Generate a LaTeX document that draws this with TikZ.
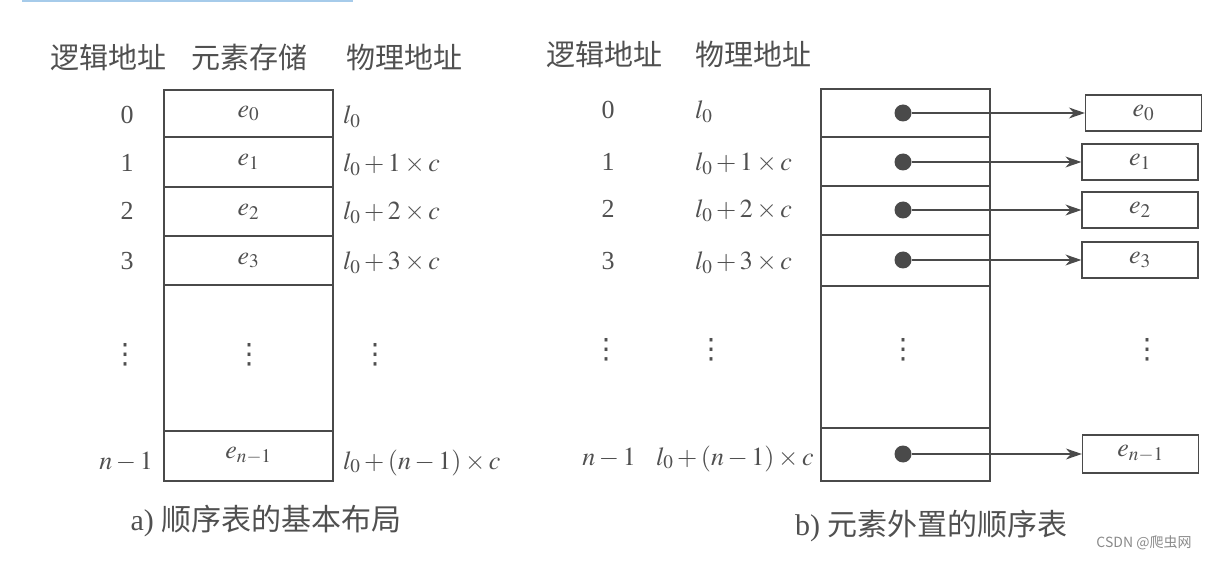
\documentclass[tikz,border=0pt]{standalone}
\usepackage{mathptmx}
\usepackage[no-math]{fontspec}
\setmainfont{Liberation Serif}
\newfontfamily\cjk{Noto Sans CJK SC}
\newfontfamily\djv{DejaVu Sans}
\usetikzlibrary{arrows.meta}
\definecolor{ink}{HTML}{505050}
\definecolor{edge}{HTML}{4A4A4A}
\definecolor{topblue}{HTML}{A6CBEA}
\definecolor{wm}{HTML}{8A8A8A}
\begin{document}
\begin{tikzpicture}[x=1pt,y=-1pt,
  every node/.style={text=ink, font=\fontsize{26}{30}\selectfont},
  cell/.style={draw=edge, line width=1.3pt, minimum width=169pt, inner sep=0pt},
  ebox/.style={draw=edge, line width=1.3pt, minimum width=116pt, minimum height=36pt, inner sep=0pt},
  hdr/.style={font=\cjk\fontsize{29}{30}\selectfont, inner sep=0pt},
  lbl/.style={anchor=base west, inner sep=0pt},
  num/.style={anchor=base, inner sep=0pt},
  numr/.style={anchor=base east, inner sep=0pt},
  vd/.style={inner sep=0pt, font=\djv\fontsize{28}{30}\selectfont},
  pdot/.style={circle, fill=edge, minimum size=17pt, inner sep=0pt},
  arr/.style={draw=edge, line width=1.1pt, -{Stealth[length=16pt,width=11pt]}},
  captxt/.style={font=\fontsize{30}{32}\selectfont, inner sep=0pt}
]
\useasboundingbox (0,0) rectangle (1207,561);
\fill[topblue] (22,0) rectangle (353,2.5);

% ---------- a) ----------
\node[hdr] (ha1) at (108.5,57) {逻辑地址};
\node[hdr] (ha2) at (249,57) {元素存储};
\node[hdr] (ha3) at (404,57) {物理地址};

\node[cell, minimum height=47pt] (L0) at (248.5,113.5) {$e_0$};
\node[cell, minimum height=50pt] (L1) at (248.5,162) {$e_1$};
\node[cell, minimum height=49pt] (L2) at (248.5,211.5) {$e_2$};
\node[cell, minimum height=49pt] (L3) at (248.5,260.5) {$e_3$};
\node[cell, minimum height=146pt] (Ld) at (248.5,358) {};
\node[vd] (ldd) at (249,355) {⋮};
\node[cell, minimum height=50pt] (Ln) at (248.5,456) {$e_{n-1}$};

\node[num] (a0) at (127,124) {0};
\node[num] (a1) at (127,172) {1};
\node[num] (a2) at (127,220) {2};
\node[num] (a3) at (127,270) {3};
\node[vd] (ad) at (125,355) {⋮};
\node[numr] (an) at (153,469) {$n-1$};

\node[lbl] (p0) at (343,124) {$l_0$};
\node[lbl] (p1) at (343,172) {$l_0+1\times c$};
\node[lbl] (p2) at (343,220) {$l_0+2\times c$};
\node[lbl] (p3) at (343,270) {$l_0+3\times c$};
\node[vd] (pd) at (375,355) {⋮};
\node[lbl] (pn) at (343,469) {$l_0+(n-1)\times c$};

\node[captxt] (capa) at (266,521) {a) {\cjk 顺序表的基本布局}};

% ---------- b) ----------
\node[hdr] (hb1) at (604,54) {逻辑地址};
\node[hdr] (hb2) at (753.5,54) {物理地址};

\node[num] (b0) at (608,119) {0};
\node[num] (b1) at (608,171) {1};
\node[num] (b2) at (608,218) {2};
\node[num] (b3) at (608,270) {3};
\node[vd] (bd) at (606,350) {⋮};
\node[numr] (bn) at (636,465) {$n-1$};

\node[lbl] (q0) at (695,119) {$l_0$};
\node[lbl] (q1) at (695,171) {$l_0+1\times c$};
\node[lbl] (q2) at (695,218) {$l_0+2\times c$};
\node[lbl] (q3) at (695,270) {$l_0+3\times c$};
\node[vd] (qd) at (711,350) {⋮};
\node[lbl] (qn) at (656,465) {$l_0+(n-1)\times c$};

\node[cell, minimum height=48pt] (R0) at (905.5,113) {};
\node[cell, minimum height=49pt] (R1) at (905.5,161.5) {};
\node[cell, minimum height=49pt] (R2) at (905.5,210.5) {};
\node[cell, minimum height=51pt] (R3) at (905.5,260.5) {};
\node[cell, minimum height=142pt] (Rd) at (905.5,357) {};
\node[vd] (rdd) at (903,350) {⋮};
\node[cell, minimum height=53pt] (Rn) at (905.5,454.5) {};

\node[pdot] (D0) at (903,113) {};
\node[pdot] (D1) at (903,162) {};
\node[pdot] (D2) at (903,210) {};
\node[pdot] (D3) at (903,260) {};
\node[pdot] (Dn) at (903,454) {};

\node[ebox] (E0) at (1143.5,113) {$e_0$};
\node[ebox] (E1) at (1140,162) {$e_1$};
\node[ebox] (E2) at (1140,210) {$e_2$};
\node[ebox] (E3) at (1140,260) {$e_3$};
\node[vd] (ed) at (1147,350) {⋮};
\node[ebox, minimum height=38pt] (En) at (1140.5,454) {$e_{n-1}$};

\draw[arr] (D0) -- (E0);
\draw[arr] (D1) -- (E1);
\draw[arr] (D2) -- (E2);
\draw[arr] (D3) -- (E3);
\draw[arr] (Dn) -- (En);

\node[captxt, anchor=west] (capb) at (795,526) {b) {\cjk 元素外置的顺序表}};
\node[font=\cjk\fontsize{14}{16}\selectfont, text=wm, inner sep=0pt] (wmk) at (1144,543) {CSDN @爬虫网};
\end{tikzpicture}
\end{document}
